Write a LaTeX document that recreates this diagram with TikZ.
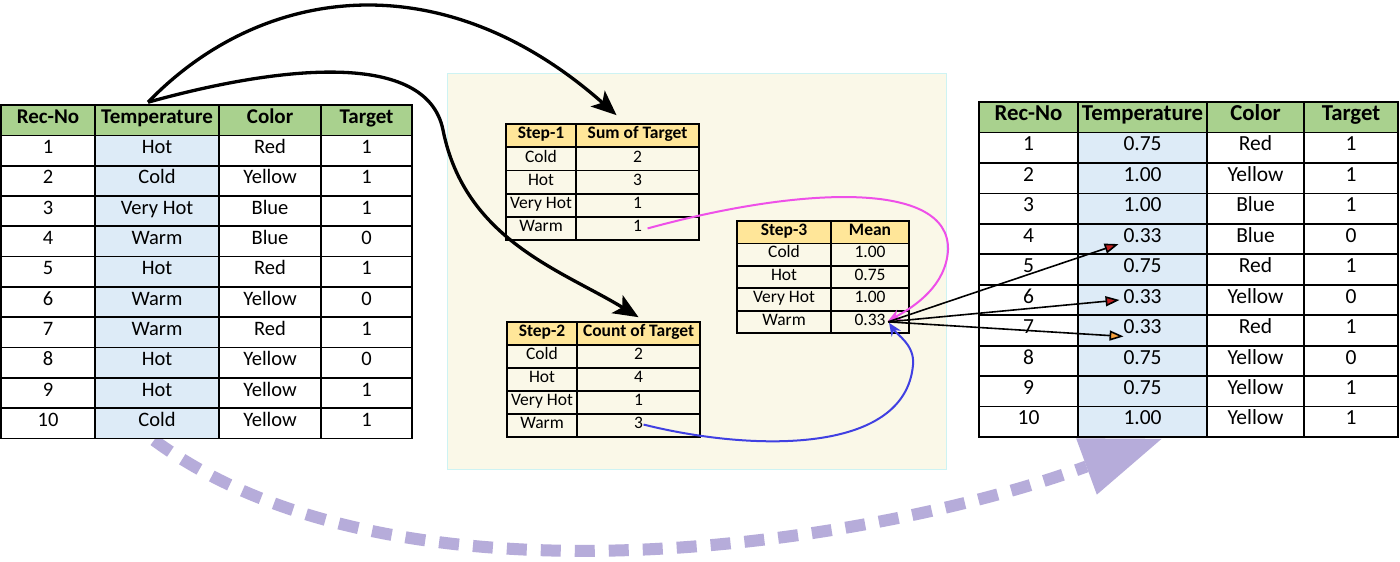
\documentclass[tikz,border=0pt]{standalone}
\usepackage{fontspec}
\setmainfont{Carlito}
\usetikzlibrary{matrix,arrows.meta,calc,backgrounds}
\definecolor{hdrgreen}{RGB}{169,209,142}
\definecolor{tempblue}{RGB}{221,235,247}
\definecolor{hdryellow}{RGB}{255,230,153}
\definecolor{panelbg}{RGB}{250,248,232}
\definecolor{panelline}{RGB}{205,243,243}
\definecolor{pinkline}{RGB}{238,80,232}
\definecolor{blueline}{RGB}{64,64,226}
\definecolor{tipred}{RGB}{192,30,30}
\definecolor{tiporange}{RGB}{245,160,60}
\definecolor{lavender}{RGB}{182,172,218}
\tikzset{
  tabcell/.style={draw=black, line width=1.7pt, inner sep=0pt, anchor=center,
    text height=0.63em, text depth=0pt, fill=white},
  bigtab/.style={matrix of nodes, row sep=-1.7pt, column sep=-1.7pt, inner sep=0pt,
    anchor=north west, nodes={tabcell, minimum height=#1}},
  steptab/.style={bigtab=#1, nodes={fill=panelbg, font=\fontsize{17.5}{20}\selectfont},
    row 1/.style={nodes={fill=hdryellow, font=\bfseries\fontsize{17.5}{20}\selectfont}}},
  bigarrow/.style={line width=3.3pt, -{Stealth[length=25pt,width=21pt,inset=6pt]}},
  thinarrow/.style={line width=1.6pt, draw=black, -{Triangle[length=14pt,width=10pt,fill=#1]}},
  curvearrow/.style={line width=2pt, draw=#1, -{Stealth[length=13pt,width=11pt]}},
  bigdash/.style={draw=lavender, line width=12pt, dash pattern=on 20pt off 14pt,
    -{Triangle[length=80pt,width=60pt,line width=0pt]}}
}
\begin{document}
\begin{tikzpicture}[x=1pt,y=-1pt]
\useasboundingbox (0,0) rectangle (1400,562);

% left table
\matrix (L) [bigtab=30.3pt, nodes={font=\fontsize{20.5}{24}\selectfont},
  column 1/.style={nodes={minimum width=94pt}},
  column 2/.style={nodes={minimum width=124pt, fill=tempblue}},
  column 3/.style={nodes={minimum width=102pt}},
  column 4/.style={nodes={minimum width=91pt}},
  row 1/.style={nodes={fill=hdrgreen, font=\bfseries\fontsize{21}{24}\selectfont}}]
  at (0,104) {
Rec-No & Temperature & Color & Target \\
1 & Hot & Red & 1 \\
2 & Cold & Yellow & 1 \\
3 & Very Hot & Blue & 1 \\
4 & Warm & Blue & 0 \\
5 & Hot & Red & 1 \\
6 & Warm & Yellow & 0 \\
7 & Warm & Red & 1 \\
8 & Hot & Yellow & 0 \\
9 & Hot & Yellow & 1 \\
10 & Cold & Yellow & 1 \\
};

% right table
\matrix (R) [bigtab=30.45pt, nodes={font=\fontsize{21.5}{24}\selectfont},
  column 1/.style={nodes={minimum width=99pt}},
  column 2/.style={nodes={minimum width=129pt, fill=tempblue}},
  column 3/.style={nodes={minimum width=97pt}},
  column 4/.style={nodes={minimum width=94pt}},
  row 1/.style={nodes={fill=hdrgreen, font=\bfseries\fontsize{22.8}{26}\selectfont}}]
  at (978,101) {
Rec-No & Temperature & Color & Target \\
1 & 0.75 & Red & 1 \\
2 & 1.00 & Yellow & 1 \\
3 & 1.00 & Blue & 1 \\
4 & 0.33 & Blue & 0 \\
5 & 0.75 & Red & 1 \\
6 & 0.33 & Yellow & 0 \\
7 & 0.33 & Red & 1 \\
8 & 0.75 & Yellow & 0 \\
9 & 0.75 & Yellow & 1 \\
10 & 1.00 & Yellow & 1 \\
};

% step tables
\matrix (S1) [steptab=23.2pt,
  column 1/.style={nodes={minimum width=70pt}},
  column 2/.style={nodes={minimum width=123pt}}] at (505,123) {
Step-1 & Sum of Target \\
Cold & 2 \\
Hot & 3 \\
Very Hot & 1 \\
Warm & 1 \\
};
\matrix (S2) [steptab=23pt,
  column 1/.style={nodes={minimum width=70pt}},
  column 2/.style={nodes={minimum width=123pt}}] at (506,321) {
Step-2 & Count of Target \\
Cold & 2 \\
Hot & 4 \\
Very Hot & 1 \\
Warm & 3 \\
};
\matrix (S3) [steptab=22.4pt,
  column 1/.style={nodes={minimum width=94pt}},
  column 2/.style={nodes={minimum width=78pt}}] at (736,220) {
Step-3 & Mean \\
Cold & 1.00 \\
Hot & 0.75 \\
Very Hot & 1.00 \\
Warm & 0.33 \\
};

% helper coordinates
\coordinate (src) at ($(L-1-2.north)+(-9,-2)$);
\coordinate (t1) at ($(S1-1-2.north)+(-21,-8)$);
\coordinate (t2) at ($(S2-1-2.north)+(0,-4)$);
\coordinate (m2) at (443,130);
\coordinate (pstart) at ($(S1-5-2.center)+(10,0)$);
\coordinate (pmid) at (948,250);
\coordinate (ptip) at ($(S3-5-2.center)+(18,-1)$);
\coordinate (bstart) at ($(S2-5-2.center)+(5,-1)$);
\coordinate (bmid) at (913,365);
\coordinate (btip) at ($(S3-5-2.center)+(19,1)$);
\coordinate (c33) at ($(S3-5-2.center)+(18,0)$);
\coordinate (dstart) at ($(L-11-2.south)+(-3,1)$);
\coordinate (dtip) at ($(R-11-2.south)+(19,1)$);

\begin{pgfonlayer}{background}
  \fill[white] (0,0) rectangle (1400,562);
  \draw[fill=panelbg, draw=panelline, line width=1pt] (447,73) rectangle (946,469);
  \draw[bigdash] (dstart) .. controls +(247,182) and +(-280,103) .. (dtip);
\end{pgfonlayer}

% arrows
\draw[bigarrow] (src) .. controls +(113,-117) and +(-175,-155) .. (t1);
\draw[bigarrow] (src) .. controls +(133,-37) and +(-16,-80) .. (m2)
   .. controls +(22,110) and +(-77,-47) .. (t2);
\draw[curvearrow=pinkline] (pstart) .. controls +(153,-42) and +(2,-70) .. (pmid)
   .. controls +(-2,35) and +(28,-15) .. (ptip);
\draw[curvearrow=blueline] (bstart) .. controls +(108,27) and +(-8,90) .. (bmid)
   .. controls +(2,-20) and +(8,12) .. (btip);
\draw[thinarrow=tipred] (c33) -- ($(R-5-2.center)+(-24,5)$);
\draw[thinarrow=tipred] (c33) -- ($(R-7-2.center)+(-23,0)$);
\draw[thinarrow=tiporange] (c33) -- ($(R-8-2.center)+(-19,6)$);
\end{tikzpicture}
\end{document}
